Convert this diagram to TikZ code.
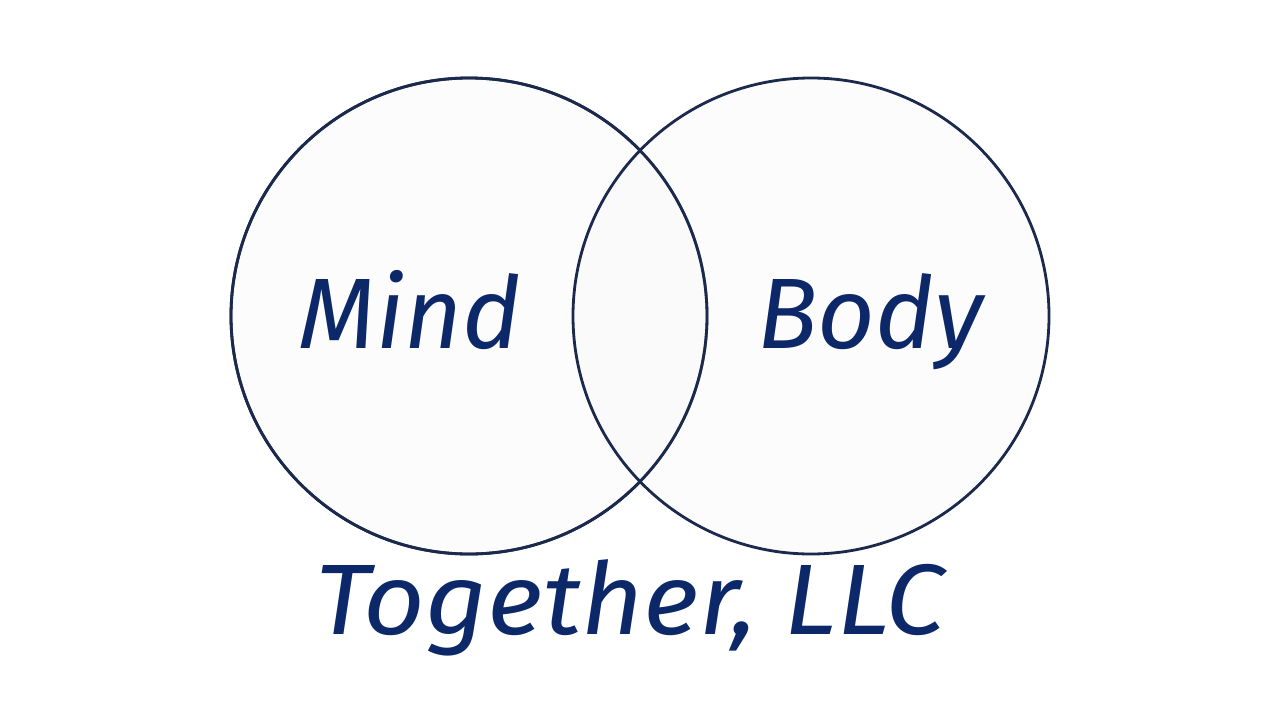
\documentclass[tikz,border=0pt]{standalone}
\usepackage{fontspec}
\setmainfont{Fira Sans}
\definecolor{navy}{HTML}{0C2868}
\definecolor{ring}{HTML}{1B2A4C}
\definecolor{fillw}{HTML}{F9F9F9}
\begin{document}
\begin{tikzpicture}[x=0.02cm,y=-0.02cm,
  ringstyle/.style={draw=ring,line width=1.6pt,fill=fillw,fill opacity=0.45},
  wordstyle/.style={text=navy,font=\fontsize{57}{60}\selectfont\itshape,inner sep=0pt}]
\useasboundingbox (0,0) rectangle (1280,720);
\fill[white] (0,0) rectangle (1280,720);
\path[ringstyle] (469,316) circle[radius=238*0.02cm];
\path[ringstyle] (811,316) circle[radius=238*0.02cm];
\draw[ring,line width=1.6pt] (469,316) circle[radius=238*0.02cm];
\node[wordstyle,anchor=base] (mind) at (410,348) {Mind};
\node[wordstyle,anchor=base] (body) at (870,348) {Body};
\node[wordstyle,anchor=base,xscale=1.07] (tog) at (630,634) {Together, LLC};
\end{tikzpicture}
\end{document}
